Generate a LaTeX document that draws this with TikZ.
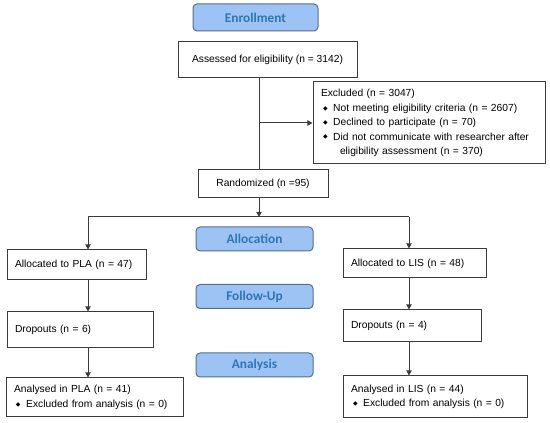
\documentclass[tikz,border=0pt]{standalone}
\usepackage{fontspec}
\setmainfont{Liberation Sans}
\newfontfamily\phasefont{Carlito}
\newfontfamily\symfont{DejaVu Sans}
\usetikzlibrary{arrows.meta}
\definecolor{phasefill}{RGB}{157,195,245}
\definecolor{phaseline}{RGB}{84,110,140}
\definecolor{phasetext}{RGB}{46,117,182}
\definecolor{boxline}{RGB}{60,60,60}
\newcommand{\flbullet}{\hspace*{1.5pt}\raisebox{0.8pt}{\symfont\fontsize{4.5}{4.5}\selectfont ◆}\hspace{4.2pt}}

\begin{document}
\begin{tikzpicture}[x=0.75pt,y=-0.75pt,
  font=\fontsize{7.7}{10.8}\selectfont,
  flowbox/.style={draw=boxline,line width=0.75pt,inner xsep=6pt,inner ysep=2pt,align=left},
  midbox/.style={draw=boxline,line width=0.75pt,align=center},
  phasebox/.style={draw=phaseline,fill=phasefill,rounded corners=3pt,line width=0.75pt,
    font=\phasefont\bfseries\fontsize{10}{12}\selectfont,text=phasetext,
    minimum width=87.75pt,minimum height=18pt},
  link/.style={draw=boxline,line width=0.75pt},
  arr/.style={link,-{Triangle[length=3.8pt,width=4pt]}}]
  \useasboundingbox (0,0) rectangle (550,423);

  % phase labels
  \node[phasebox,minimum width=93.75pt,minimum height=20.25pt] (enroll) at (255.5,17.5) {Enrollment};
  \node[phasebox] (alloc) at (254.5,239) {Allocation};
  \node[phasebox] (follow) at (254.5,296.5) {Follow-Up};
  \node[phasebox] (analysis) at (254.5,365) {Analysis};

  % enrolment
  \node[midbox,minimum width=134.25pt,minimum height=27pt] (assess) at (267.5,60) {Assessed for eligibility (n = 3142)};
  \node[flowbox,text width=162pt,minimum height=61.5pt] (excl) at (429,123)
    {Excluded (n = 3047)\\
     \flbullet Not meeting eligibility criteria (n = 2607)\\
     \flbullet Declined to participate (n = 70)\\
     \flbullet Did not communicate with researcher after\\
     \hspace*{14.25pt}eligibility assessment (n = 370)};
  \node[midbox,minimum width=97.5pt,minimum height=21pt] (rand) at (263,184) {Randomized (n =95)};

  % two arms
  \node[flowbox,text width=92.25pt,minimum height=22.5pt] (allocpla) at (76.5,265) {Allocated to PLA (n = 47)};
  \node[flowbox,text width=95.25pt,minimum height=21.75pt] (alloclis) at (414.5,263.5) {Allocated to LIS (n = 48)};
  \node[flowbox,text width=97.5pt,minimum height=27pt] (droppla) at (80,330) {Dropouts (n = 6)};
  \node[flowbox,text width=91.5pt,minimum height=24pt] (droplis) at (412,326) {Dropouts (n = 4)};
  \node[flowbox,text width=120.75pt,minimum height=29.25pt] (anapla) at (94.5,397.5)
    {Analysed in PLA (n = 41)\\\flbullet Excluded from analysis (n = 0)};
  \node[flowbox,text width=126pt,minimum height=31.5pt] (analis) at (435,397)
    {Analysed in LIS (n = 44)\\\flbullet Excluded from analysis (n = 0)};

  % connectors
  \coordinate (trunk) at (259,217);
  \coordinate (colpla) at (88,217);
  \coordinate (collis) at (409,217);
  \draw[link] (assess.south -| trunk) -- (rand.north -| trunk);
  \draw[arr] (excl.west -| trunk) -- (excl.west);
  \draw[arr] (rand.south -| trunk) -- (trunk);
  \draw[link] (colpla) -- (collis);
  \draw[arr] (colpla) -- (allocpla.north -| colpla);
  \draw[arr] (collis) -- (alloclis.north -| collis);
  \draw[arr] (allocpla.south -| colpla) -- (droppla.north -| colpla);
  \draw[arr] (alloclis.south -| collis) -- (droplis.north -| collis);
  \draw[arr] (droppla.south -| colpla) -- (anapla.north -| colpla);
  \draw[arr] (droplis.south -| collis) -- (analis.north -| collis);
\end{tikzpicture}
\end{document}
